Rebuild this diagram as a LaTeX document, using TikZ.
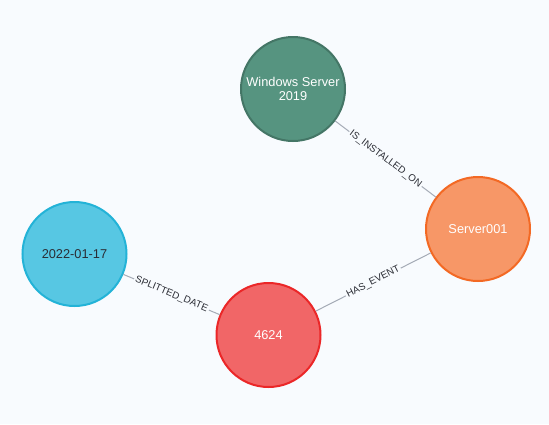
\documentclass[tikz,border=0pt]{standalone}
\usepackage{fontspec}
\setmainfont{Liberation Sans}
\definecolor{bg}{HTML}{F8FBFE}
\definecolor{gfill}{HTML}{569480}
\definecolor{gline}{HTML}{447666}
\definecolor{ofill}{HTML}{F79767}
\definecolor{oline}{HTML}{F36924}
\definecolor{bfill}{HTML}{57C7E3}
\definecolor{bline}{HTML}{23B3D7}
\definecolor{rfill}{HTML}{F16667}
\definecolor{rline}{HTML}{EB2728}
\definecolor{edgecol}{HTML}{A5ABB6}
\definecolor{labcol}{HTML}{2A2C34}
\tikzset{
  gnode/.style={circle, minimum size=104pt, inner sep=0pt, line width=2pt, align=center,
    font=\fontsize{12.8pt}{13.5pt}\selectfont},
  edgeline/.style={draw=edgecol, line width=1pt},
  elabel/.style={sloped, fill=bg, inner sep=1.5pt, text=labcol,
    font=\fontsize{9.8pt}{11pt}\selectfont}
}
\begin{document}
\begin{tikzpicture}[x=1pt,y=-1pt]
\fill[bg] (0,0) rectangle (549,424);
\useasboundingbox (0,0) rectangle (549,424);
\node[gnode, fill=gfill, draw=gline, text=white] (win) at (293,89) {Windows Server\\2019};
\node[gnode, fill=ofill, draw=oline, text=white] (srv) at (478,229) {Server001};
\node[gnode, fill=bfill, draw=bline, text=labcol] (date) at (74.5,254) {2022-01-17};
\node[gnode, fill=rfill, draw=rline, text=white] (evt) at (268.5,335) {4624};
\draw[edgeline] (win) -- node[elabel] {IS\_INSTALLED\_ON} (srv);
\draw[edgeline] (evt) -- node[elabel] {HAS\_EVENT} (srv);
\draw[edgeline] (date) -- node[elabel] {SPLITTED\_DATE} (evt);
\end{tikzpicture}
\end{document}
